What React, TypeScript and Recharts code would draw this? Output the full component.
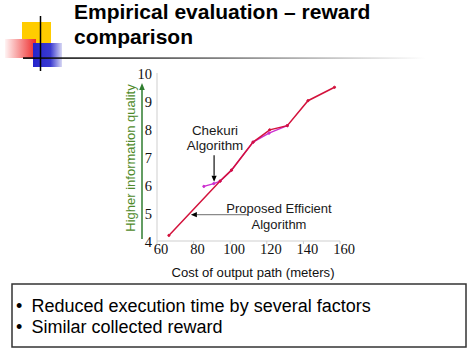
import { Line, LineChart, ReferenceLine, XAxis, YAxis } from "recharts";

// axis ticks
const X_TICKS = [60, 80, 100, 120, 140, 160];
const Y_TICKS = [4, 5, 6, 7, 8, 9, 10];

// Proposed Efficient Algorithm (red)
const proposedCost = [66.5, 94.5, 100.7, 112.5, 121.6, 131.2, 142.5, 157];
const proposedReward = [4.2, 6.14, 6.53, 7.53, 7.97, 8.12, 9.01, 9.49];

// Chekuri Algorithm (magenta)
const chekuriCost = [85.6, 91, 94.5, 100.7, 112.5, 121.2, 131.2];
const chekuriReward = [5.95, 6.05, 6.14, 6.53, 7.53, 7.85, 8.12];

const proposed = proposedCost.map((x, i) => ({ x, y: proposedReward[i] }));
const chekuri = chekuriCost.map((x, i) => ({ x, y: chekuriReward[i] }));

const RED = "#d3123c";
const MAGENTA = "#cc2fd0";
const SANS = "'Liberation Sans', Arial, sans-serif";
const SERIF = "'Liberation Serif', 'Times New Roman', serif";

// eslint-disable-next-line @typescript-eslint/no-explicit-any
function Arrow(props: any) {
  const { x1, y1, x2, y2, lineColor, headColor } = props;
  const a = Math.atan2(y2 - y1, x2 - x1);
  const len = 6;
  const w = 2.6;
  const bx = x2 - len * Math.cos(a);
  const by = y2 - len * Math.sin(a);
  const pts = [
    `${x2},${y2}`,
    `${bx - w * Math.sin(a)},${by + w * Math.cos(a)}`,
    `${bx + w * Math.sin(a)},${by - w * Math.cos(a)}`,
  ].join(" ");
  return (
    <g>
      <line x1={x1} y1={y1} x2={bx} y2={by} stroke={lineColor} strokeWidth={1.3} />
      <polygon points={pts} fill={headColor} />
    </g>
  );
}

export default function App() {
  return (
    <div style={{ position: "absolute", left: 0, top: 0, width: 474, height: 355, background: "#fff" }}>
      <LineChart width={474} height={355} margin={{ top: 73, right: 134, bottom: 84, left: 127 }}>
        <XAxis
          type="number"
          dataKey="x"
          domain={[60, 160]}
          ticks={X_TICKS}
          height={30}
          stroke="#cfcfcf"
          tickSize={3}
          tickMargin={0}
          tick={{ fill: "#111", fontSize: 14.5, fontFamily: SERIF, dx: 4 }}
          allowDataOverflow
        />
        <YAxis
          type="number"
          dataKey="y"
          domain={[4, 10]}
          ticks={Y_TICKS}
          width={30}
          stroke="#cfcfcf"
          tickLine={false}
          tickSize={0}
          tickMargin={5}
          tick={{ fill: "#111", fontSize: 14.5, fontFamily: SERIF, dy: 1 }}
          allowDataOverflow
        />
        <Line
          data={chekuri}
          dataKey="y"
          type="linear"
          stroke={MAGENTA}
          strokeWidth={1.4}
          dot={{ r: 1.1, fill: MAGENTA, stroke: MAGENTA, strokeWidth: 1 }}
          isAnimationActive={false}
        />
        <Line
          data={proposed}
          dataKey="y"
          type="linear"
          stroke={RED}
          strokeWidth={1.5}
          dot={{ r: 1.1, fill: RED, stroke: RED, strokeWidth: 1 }}
          isAnimationActive={false}
        />
        <ReferenceLine
          segment={[{ x: 91.2, y: 7.06 }, { x: 91.2, y: 6.12 }]}
          shape={(p: any) => <Arrow {...p} lineColor="#222" headColor="#000" />}
        />
        <ReferenceLine
          segment={[{ x: 109.6, y: 4.94 }, { x: 78.5, y: 4.94 }]}
          shape={(p: any) => <Arrow {...p} lineColor="#8a8a8a" headColor="#000" />}
        />
      </LineChart>

      <svg
        width={474}
        height={355}
        style={{ position: "absolute", left: 0, top: 0, pointerEvents: "none" }}
      >
        <defs>
          <linearGradient id="redFade" x1="0" y1="0" x2="1" y2="0">
            <stop offset="0" stopColor="#fff4f4" />
            <stop offset="1" stopColor="#ee2a2a" />
          </linearGradient>
          <linearGradient id="blueFade" x1="0" y1="0" x2="1" y2="0">
            <stop offset="0" stopColor="#2424cc" />
            <stop offset="0.6" stopColor="#3a3ad0" />
            <stop offset="1" stopColor="#d8d8f4" />
          </linearGradient>
          <linearGradient id="ruleFade" x1="0" y1="0" x2="1" y2="0">
            <stop offset="0" stopColor="#000" />
            <stop offset="0.5" stopColor="#777" />
            <stop offset="1" stopColor="#fff" />
          </linearGradient>
        </defs>

        {/* slide logo */}
        <rect x={22} y={22} width={29} height={22} fill="#ffcc00" />
        <rect x={5} y={39} width={31} height={19} fill="url(#redFade)" />
        <rect x={33} y={43} width={29} height={24} fill="url(#blueFade)" />
        <rect x={23} y={57.3} width={402} height={1.6} fill="url(#ruleFade)" />
        <line x1={40.5} y1={16} x2={40.5} y2={71} stroke="#000" strokeWidth={1.5} />

        {/* title */}
        <text x={74} y={19} fontFamily={SANS} fontWeight="bold" fontSize={21} fill="#000">
          Empirical evaluation – reward
        </text>
        <text x={74} y={44} fontFamily={SANS} fontWeight="bold" fontSize={21} fill="#000">
          comparison
        </text>

        {/* y axis title with green arrow */}
        <line x1={142} y1={239} x2={142} y2={89} stroke="#2f7d2f" strokeWidth={1.5} />
        <polygon points="142,83 139.2,90 144.8,90" fill="#2f7d2f" />
        <text
          x={130}
          y={158}
          transform="rotate(-90 130 158)"
          textAnchor="middle"
          dominantBaseline="central"
          fontFamily={SANS}
          fontSize={13}
          fill="#4f8a2b"
        >
          Higher information quality
        </text>

        {/* annotations */}
        <text x={215} y={135} textAnchor="middle" fontFamily={SANS} fontSize={13.4} fill="#1a1a1a">
          Chekuri
        </text>
        <text x={215} y={150} textAnchor="middle" fontFamily={SANS} fontSize={13.4} fill="#1a1a1a">
          Algorithm
        </text>
        <text x={279} y={213} textAnchor="middle" fontFamily={SANS} fontSize={13} fill="#1a1a1a">
          Proposed Efficient
        </text>
        <text x={279} y={229} textAnchor="middle" fontFamily={SANS} fontSize={13} fill="#1a1a1a">
          Algorithm
        </text>

        {/* x axis title */}
        <text x={253} y={277} textAnchor="middle" fontFamily={SANS} fontSize={13.1} fill="#111">
          Cost of output path (meters)
        </text>

        {/* summary box */}
        <rect x={12} y={284} width={454} height={63} fill="none" stroke="#333" strokeWidth={1.5} />
        <text x={16} y={312} fontFamily={SANS} fontSize={18} fill="#000">•</text>
        <text x={31.5} y={312} fontFamily={SANS} fontSize={18} fill="#000">
          Reduced execution time by several factors
        </text>
        <text x={16} y={333} fontFamily={SANS} fontSize={18} fill="#000">•</text>
        <text x={31.5} y={333} fontFamily={SANS} fontSize={18} fill="#000">
          Similar collected reward
        </text>
      </svg>
    </div>
  );
}
